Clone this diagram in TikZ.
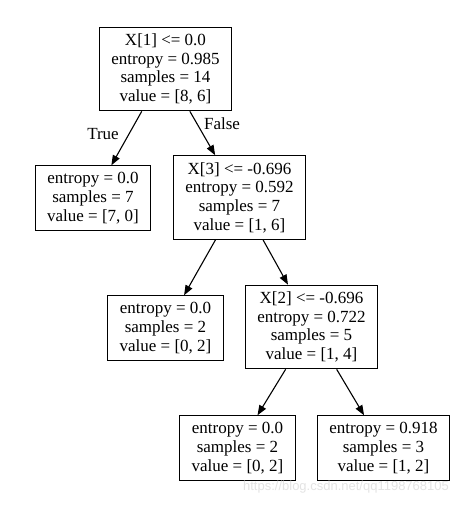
\documentclass[tikz,border=0pt]{standalone}
\usepackage{fontspec}
\setmainfont{Liberation Serif}
\setsansfont{Liberation Sans}
\usetikzlibrary{arrows.meta}

\begin{document}
\begin{tikzpicture}[x=1pt, y=-1pt, >={Triangle[length=10pt, width=7.5pt]},
      split/.style={draw, line width=1.1pt, inner xsep=12pt, inner ysep=6.5pt,
                    font=\fontsize{17}{18.7}\selectfont, align=center},
      leaf/.style={split},
      edge/.style={->, line width=1.1pt},
      elbl/.style={font=\fontsize{17}{18.7}\selectfont},
      wmark/.style={font=\sffamily\fontsize{13}{14}\selectfont, text=gray!22}]

    \useasboundingbox (0,0) rectangle (474,505);

    % === splits ===
    \node[split] (root) at (165.5, 69)  {X[1] <= 0.0\\entropy = 0.985\\samples = 14\\value = [8, 6]};
    \node[split] (x3)   at (239.5, 197.5) {X[3] <= -0.696\\entropy = 0.592\\samples = 7\\value = [1, 6]};
    \node[split] (x2)   at (311.5, 327) {X[2] <= -0.696\\entropy = 0.722\\samples = 5\\value = [1, 4]};

    % === leaves ===
    \node[leaf] (lfa) at (93, 198)    {entropy = 0.0\\samples = 7\\value = [7, 0]};
    \node[leaf] (lfb) at (165.5, 328) {entropy = 0.0\\samples = 2\\value = [0, 2]};
    \node[leaf] (lfc) at (237.5, 448) {entropy = 0.0\\samples = 2\\value = [0, 2]};
    \node[leaf] (lfd) at (383.5, 448) {entropy = 0.918\\samples = 3\\value = [1, 2]};

    % === edges ===
    \draw[edge] (root) -- (lfa);
    \draw[edge] (root) -- (x3);
    \draw[edge] (x3) -- (lfb);
    \draw[edge] (x3) -- (x2);
    \draw[edge] (x2) -- (lfc);
    \draw[edge] (x2) -- (lfd);

    \node[elbl] (ltrue)  at (103, 134) {True};
    \node[elbl] (lfalse) at (222, 124) {False};

    \node[wmark] (wm) at (346, 487) {https://blog.csdn.net/qq1198768105};

\end{tikzpicture}
\end{document}
